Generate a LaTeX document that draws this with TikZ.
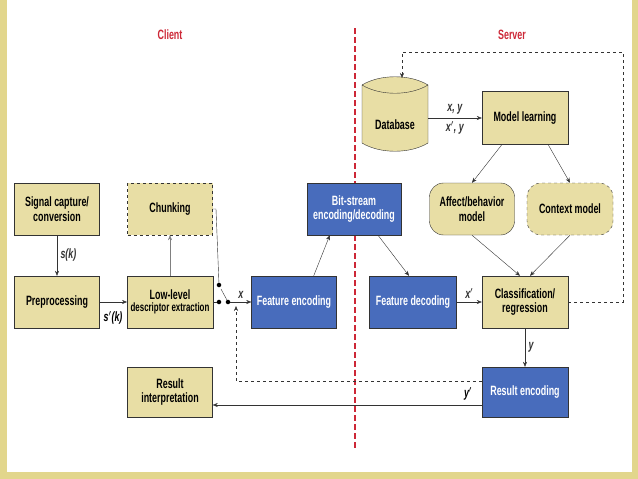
\documentclass[tikz,border=0pt]{standalone}
\usepackage{fontspec}
\setmainfont{Liberation Sans}[FakeStretch=0.66]
\usetikzlibrary{shapes.geometric,arrows.meta}
\definecolor{tan}{RGB}{232,222,165}
\definecolor{blu}{RGB}{72,108,188}
\definecolor{frame}{RGB}{226,214,140}
\definecolor{redl}{RGB}{205,40,55}
\begin{document}
\begin{tikzpicture}[x=1pt,y=-1pt,
 box/.style={draw=black!80,fill=tan,minimum width=85pt,minimum height=52pt,align=center,font=\bfseries\fontsize{13.5}{14.5}\selectfont},
 bbox/.style={box,fill=blu,text=white},
 rbox/.style={box,rounded corners=14pt},
 arr/.style={-{Stealth[length=5pt,width=4pt]},black!80},
 dsh/.style={dashed,black!80},
 lab/.style={font=\bfseries\itshape\fontsize{13.5}{14.5}\selectfont},
 dot/.style={circle,fill=black,inner sep=1.6pt}]
\useasboundingbox (0,0) rectangle (638,479);
\fill[frame] (0,0) rectangle (638,479);
\fill[white] (7,0) rectangle (632,472);
\draw[draw=redl,line width=1.1pt,dash pattern=on 6pt off 3pt] (355,28) -- (355,448);
\node[text=redl,font=\bfseries\fontsize{13.5}{14.5}\selectfont] (cl) at (170,35) {Client};
\node[text=redl,font=\bfseries\fontsize{13.5}{14.5}\selectfont] (sv) at (512,35) {Server};
\node[box] (sig) at (57,209) {Signal capture/\\conversion};
\node[box,dashed] (chu) at (170,209) {Chunking};
\node[box] (pre) at (57,302) {Preprocessing};
\node[box] (low) at (170,302) {Low-level\\[-2pt]{\fontsize{12}{13}\selectfont descriptor extraction}};
\node[bbox] (fe) at (294,302) {Feature encoding};
\node[bbox,minimum width=94pt] (bs) at (354,209) {Bit-stream\\encoding/decoding};
\node[bbox,minimum width=87pt] (fd) at (413,302) {Feature decoding};
\node[box,minimum width=86pt] (cr) at (525,302) {Classification/\\regression};
\node[bbox,minimum width=86pt,minimum height=50pt] (re) at (525,392) {Result encoding};
\node[box,minimum height=50pt] (ri) at (170,392) {Result\\interpretation};
\node[box,minimum width=86pt,minimum height=53pt] (ml) at (525,118) {Model learning};
\node[rbox] (ab) at (472,209) {Affect/behavior\\model};
\node[rbox,dashed,minimum width=86pt] (cm) at (570,209) {Context model};
% database cylinder
\draw[black!80,fill=tan] (362,85) .. controls (380,74) and (410,74) .. (428,85) -- (428,143) .. controls (410,154) and (380,154) .. (362,143) -- cycle;
\draw[black!80] (362,85) .. controls (380,96) and (410,96) .. (428,85);
\node[font=\bfseries\fontsize{13.5}{14.5}\selectfont] (db) at (395,125) {Database};
\coordinate (dbr) at (428,118);
\coordinate (dbt) at (402,78);
% arrows
\draw[arr] (sig) -- node[lab,right]{\textit{s}(\textit{k})} (pre);
\draw[arr] (pre) -- (low);
\node[lab] (sk) at (113,318) {\textit{s}$'$(\textit{k})};
\draw[arr,black!50] (low) -- (chu);
\node[dot] (c1) at (219,285) {};
\node[dot] (c2) at (219,302) {};
\node[dot] (pv) at (228,302) {};
\draw[black!80] (chu.east|-0,209) -- (216,209) -- (c1);
\draw[black!80] (low) -- (c2);
\draw[black!80] (pv) -- (221,289);
\draw[arr] (pv) -- node[lab,above]{\textit{x}} (fe);
\draw[arr] ([xshift=-23pt]fe.north east) -- ([xshift=23pt]bs.south west);
\draw[arr] ([xshift=24pt]bs.south) -- ([xshift=-4pt]fd.north);
\draw[arr] (fd) -- node[lab,above]{\textit{x}$'$} (cr);
\draw[arr] (dbr) -- node[lab,above]{\textit{x}, \textit{y}} node[lab,below]{\textit{x}$'$, \textit{y}} (ml.west|-dbr);
\draw[arr] ([xshift=20pt]ml.south west) -- (ab.north);
\draw[arr] ([xshift=-20pt]ml.south east) -- (cm.north);
\draw[arr] (ab.south) -- ([xshift=-5pt]cr.north);
\draw[arr] (cm.south) -- ([xshift=5pt]cr.north);
\draw[arr] (cr) -- node[lab,right]{\textit{y}} (re);
\draw[arr] (re.west|-0,405) -- (ri.east|-0,405);
\node[lab] (yp) at (468,394) {\textit{y}$'$};
\draw[dsh,-{Stealth[length=5pt,width=4pt]}] (re.west|-0,381) -- (236,381) -- (236,306);
\draw[dsh,-{Stealth[length=5pt,width=4pt]}] (cr.east) -- (623,302) -- (623,52) -- (402,52) -- (dbt);
\end{tikzpicture}
\end{document}
